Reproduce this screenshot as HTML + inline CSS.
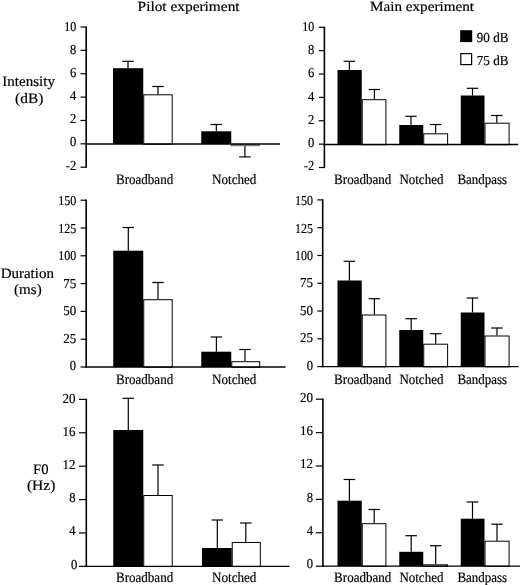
<!DOCTYPE html>
<html lang="en"><head><meta charset="utf-8"><title>Figure</title>
<style>
html,body{margin:0;padding:0;background:#fff;}
svg{display:block}
text{font-family:'Liberation Serif', 'DejaVu Serif', serif;fill:#000;stroke:#000;stroke-width:0.18px;}
</style></head>
<body>
<svg width="520" height="585" viewBox="0 0 520 585" shape-rendering="geometricPrecision" text-rendering="geometricPrecision">
<rect x="0" y="0" width="520" height="585" fill="#fff"/>
<line x1="128" y1="61.3" x2="128" y2="68.2" stroke="#000" stroke-width="1.2" stroke-linecap="butt"/>
<line x1="122.25" y1="61.3" x2="133.75" y2="61.3" stroke="#000" stroke-width="1.2" stroke-linecap="butt"/>
<line x1="158" y1="86.5" x2="158" y2="94.3" stroke="#000" stroke-width="1.2" stroke-linecap="butt"/>
<line x1="152.25" y1="86.5" x2="163.75" y2="86.5" stroke="#000" stroke-width="1.2" stroke-linecap="butt"/>
<line x1="216.3" y1="124.5" x2="216.3" y2="131.3" stroke="#000" stroke-width="1.2" stroke-linecap="butt"/>
<line x1="210.55" y1="124.5" x2="222.05" y2="124.5" stroke="#000" stroke-width="1.2" stroke-linecap="butt"/>
<line x1="244.9" y1="156.9" x2="244.9" y2="145" stroke="#000" stroke-width="1.2" stroke-linecap="butt"/>
<line x1="239.15" y1="156.9" x2="250.65" y2="156.9" stroke="#000" stroke-width="1.2" stroke-linecap="butt"/>
<rect x="113" y="68.2" width="30.25" height="75.8" fill="#000"/>
<rect x="143.75" y="94.80" width="28.45" height="49.40" fill="#fff" stroke="#000" stroke-width="1.0"/>
<rect x="201.25" y="131.3" width="30.0" height="12.699999999999989" fill="#000"/>
<rect x="230.45" y="144.0" width="29.54999999999999" height="2.2" fill="#777"/>
<line x1="86.2" y1="26.4" x2="86.2" y2="167.79999999999998" stroke="#000" stroke-width="1.6" stroke-linecap="butt"/>
<line x1="85.4" y1="144.0" x2="280" y2="144.0" stroke="#000" stroke-width="1.35" stroke-linecap="butt"/>
<line x1="80.5" y1="27.0" x2="86.2" y2="27.0" stroke="#000" stroke-width="1.2" stroke-linecap="butt"/>
<text x="76.2" y="30.85" font-size="13.7" text-anchor="end" textLength="12.0" lengthAdjust="spacingAndGlyphs">10</text>
<line x1="80.5" y1="50.36666666666666" x2="86.2" y2="50.36666666666666" stroke="#000" stroke-width="1.2" stroke-linecap="butt"/>
<text x="76.2" y="53.98" font-size="13.7" text-anchor="end" textLength="6.3" lengthAdjust="spacingAndGlyphs">8</text>
<line x1="80.5" y1="73.73333333333332" x2="86.2" y2="73.73333333333332" stroke="#000" stroke-width="1.2" stroke-linecap="butt"/>
<text x="76.2" y="77.1" font-size="13.7" text-anchor="end" textLength="6.3" lengthAdjust="spacingAndGlyphs">6</text>
<line x1="80.5" y1="97.1" x2="86.2" y2="97.1" stroke="#000" stroke-width="1.2" stroke-linecap="butt"/>
<text x="76.2" y="100.23" font-size="13.7" text-anchor="end" textLength="6.3" lengthAdjust="spacingAndGlyphs">4</text>
<line x1="80.5" y1="120.46666666666665" x2="86.2" y2="120.46666666666665" stroke="#000" stroke-width="1.2" stroke-linecap="butt"/>
<text x="76.2" y="123.35" font-size="13.7" text-anchor="end" textLength="6.3" lengthAdjust="spacingAndGlyphs">2</text>
<line x1="80.5" y1="143.83333333333331" x2="86.2" y2="143.83333333333331" stroke="#000" stroke-width="1.2" stroke-linecap="butt"/>
<text x="76.2" y="146.47" font-size="13.7" text-anchor="end" textLength="6.3" lengthAdjust="spacingAndGlyphs">0</text>
<line x1="80.5" y1="167.2" x2="86.2" y2="167.2" stroke="#000" stroke-width="1.2" stroke-linecap="butt"/>
<text x="76.2" y="169.6" font-size="13.7" text-anchor="end" textLength="10.4" lengthAdjust="spacingAndGlyphs">-2</text>
<line x1="349.4" y1="61.3" x2="349.4" y2="70" stroke="#000" stroke-width="1.2" stroke-linecap="butt"/>
<line x1="343.65" y1="61.3" x2="355.15" y2="61.3" stroke="#000" stroke-width="1.2" stroke-linecap="butt"/>
<line x1="374.4" y1="89.5" x2="374.4" y2="99.2" stroke="#000" stroke-width="1.2" stroke-linecap="butt"/>
<line x1="368.65" y1="89.5" x2="380.15" y2="89.5" stroke="#000" stroke-width="1.2" stroke-linecap="butt"/>
<line x1="411" y1="116.3" x2="411" y2="125" stroke="#000" stroke-width="1.2" stroke-linecap="butt"/>
<line x1="405.25" y1="116.3" x2="416.75" y2="116.3" stroke="#000" stroke-width="1.2" stroke-linecap="butt"/>
<line x1="435.6" y1="124.5" x2="435.6" y2="133.3" stroke="#000" stroke-width="1.2" stroke-linecap="butt"/>
<line x1="429.85" y1="124.5" x2="441.35" y2="124.5" stroke="#000" stroke-width="1.2" stroke-linecap="butt"/>
<line x1="472.5" y1="88.3" x2="472.5" y2="95.5" stroke="#000" stroke-width="1.2" stroke-linecap="butt"/>
<line x1="466.75" y1="88.3" x2="478.25" y2="88.3" stroke="#000" stroke-width="1.2" stroke-linecap="butt"/>
<line x1="496.8" y1="115.5" x2="496.8" y2="122.7" stroke="#000" stroke-width="1.2" stroke-linecap="butt"/>
<line x1="491.05" y1="115.5" x2="502.55" y2="115.5" stroke="#000" stroke-width="1.2" stroke-linecap="butt"/>
<rect x="337.5" y="70" width="24.25" height="74.5" fill="#000"/>
<rect x="362.25" y="99.70" width="23.65" height="45.00" fill="#fff" stroke="#000" stroke-width="1.0"/>
<rect x="399.25" y="125" width="24.0" height="19.5" fill="#000"/>
<rect x="423.75" y="133.80" width="23.85" height="10.90" fill="#fff" stroke="#000" stroke-width="1.0"/>
<rect x="460.75" y="95.5" width="23.75" height="49.0" fill="#000"/>
<rect x="485.00" y="123.20" width="24.10" height="21.50" fill="#fff" stroke="#000" stroke-width="1.0"/>
<line x1="324.4" y1="26.7" x2="324.4" y2="168.1" stroke="#000" stroke-width="1.6" stroke-linecap="butt"/>
<line x1="323.59999999999997" y1="144.5" x2="518.2" y2="144.5" stroke="#000" stroke-width="1.35" stroke-linecap="butt"/>
<line x1="318.79999999999995" y1="27.3" x2="324.4" y2="27.3" stroke="#000" stroke-width="1.2" stroke-linecap="butt"/>
<text x="314.2" y="31.05" font-size="13.7" text-anchor="end" textLength="12.0" lengthAdjust="spacingAndGlyphs">10</text>
<line x1="318.79999999999995" y1="50.666666666666664" x2="324.4" y2="50.666666666666664" stroke="#000" stroke-width="1.2" stroke-linecap="butt"/>
<text x="314.2" y="54.23" font-size="13.7" text-anchor="end" textLength="6.3" lengthAdjust="spacingAndGlyphs">8</text>
<line x1="318.79999999999995" y1="74.03333333333333" x2="324.4" y2="74.03333333333333" stroke="#000" stroke-width="1.2" stroke-linecap="butt"/>
<text x="314.2" y="77.4" font-size="13.7" text-anchor="end" textLength="6.3" lengthAdjust="spacingAndGlyphs">6</text>
<line x1="318.79999999999995" y1="97.39999999999999" x2="324.4" y2="97.39999999999999" stroke="#000" stroke-width="1.2" stroke-linecap="butt"/>
<text x="314.2" y="100.58" font-size="13.7" text-anchor="end" textLength="6.3" lengthAdjust="spacingAndGlyphs">4</text>
<line x1="318.79999999999995" y1="120.76666666666665" x2="324.4" y2="120.76666666666665" stroke="#000" stroke-width="1.2" stroke-linecap="butt"/>
<text x="314.2" y="123.75" font-size="13.7" text-anchor="end" textLength="6.3" lengthAdjust="spacingAndGlyphs">2</text>
<line x1="318.79999999999995" y1="144.13333333333333" x2="324.4" y2="144.13333333333333" stroke="#000" stroke-width="1.2" stroke-linecap="butt"/>
<text x="314.2" y="146.92" font-size="13.7" text-anchor="end" textLength="6.3" lengthAdjust="spacingAndGlyphs">0</text>
<line x1="318.79999999999995" y1="167.5" x2="324.4" y2="167.5" stroke="#000" stroke-width="1.2" stroke-linecap="butt"/>
<text x="314.2" y="170.1" font-size="13.7" text-anchor="end" textLength="10.4" lengthAdjust="spacingAndGlyphs">-2</text>
<line x1="128.3" y1="227.5" x2="128.3" y2="250.7" stroke="#000" stroke-width="1.2" stroke-linecap="butt"/>
<line x1="122.55000000000001" y1="227.5" x2="134.05" y2="227.5" stroke="#000" stroke-width="1.2" stroke-linecap="butt"/>
<line x1="158" y1="282.5" x2="158" y2="299.2" stroke="#000" stroke-width="1.2" stroke-linecap="butt"/>
<line x1="152.25" y1="282.5" x2="163.75" y2="282.5" stroke="#000" stroke-width="1.2" stroke-linecap="butt"/>
<line x1="216.4" y1="337" x2="216.4" y2="351.7" stroke="#000" stroke-width="1.2" stroke-linecap="butt"/>
<line x1="210.65" y1="337" x2="222.15" y2="337" stroke="#000" stroke-width="1.2" stroke-linecap="butt"/>
<line x1="245" y1="349.5" x2="245" y2="361.2" stroke="#000" stroke-width="1.2" stroke-linecap="butt"/>
<line x1="239.25" y1="349.5" x2="250.75" y2="349.5" stroke="#000" stroke-width="1.2" stroke-linecap="butt"/>
<rect x="113.25" y="250.7" width="30.0" height="116.30000000000001" fill="#000"/>
<rect x="143.75" y="299.70" width="28.45" height="67.50" fill="#fff" stroke="#000" stroke-width="1.0"/>
<rect x="201.25" y="351.7" width="30.0" height="15.300000000000011" fill="#000"/>
<rect x="231.75" y="361.70" width="27.95" height="5.50" fill="#fff" stroke="#000" stroke-width="1.0"/>
<line x1="86.2" y1="199.6" x2="86.2" y2="367.6" stroke="#000" stroke-width="1.6" stroke-linecap="butt"/>
<line x1="85.4" y1="367.0" x2="285.5" y2="367.0" stroke="#000" stroke-width="1.35" stroke-linecap="butt"/>
<line x1="80.60000000000001" y1="200.2" x2="86.2" y2="200.2" stroke="#000" stroke-width="1.2" stroke-linecap="butt"/>
<text x="76.15" y="205.4" font-size="13.7" text-anchor="end" textLength="18" lengthAdjust="spacingAndGlyphs">150</text>
<line x1="80.60000000000001" y1="228.0" x2="86.2" y2="228.0" stroke="#000" stroke-width="1.2" stroke-linecap="butt"/>
<text x="76.15" y="232.85" font-size="13.7" text-anchor="end" textLength="18" lengthAdjust="spacingAndGlyphs">125</text>
<line x1="80.60000000000001" y1="255.79999999999998" x2="86.2" y2="255.79999999999998" stroke="#000" stroke-width="1.2" stroke-linecap="butt"/>
<text x="76.15" y="260.3" font-size="13.7" text-anchor="end" textLength="18" lengthAdjust="spacingAndGlyphs">100</text>
<line x1="80.60000000000001" y1="283.6" x2="86.2" y2="283.6" stroke="#000" stroke-width="1.2" stroke-linecap="butt"/>
<text x="76.15" y="287.75" font-size="13.7" text-anchor="end" textLength="13" lengthAdjust="spacingAndGlyphs">75</text>
<line x1="80.60000000000001" y1="311.4" x2="86.2" y2="311.4" stroke="#000" stroke-width="1.2" stroke-linecap="butt"/>
<text x="76.15" y="315.2" font-size="13.7" text-anchor="end" textLength="13" lengthAdjust="spacingAndGlyphs">50</text>
<line x1="80.60000000000001" y1="339.2" x2="86.2" y2="339.2" stroke="#000" stroke-width="1.2" stroke-linecap="butt"/>
<text x="76.15" y="342.65" font-size="13.7" text-anchor="end" textLength="13" lengthAdjust="spacingAndGlyphs">25</text>
<line x1="80.60000000000001" y1="367.0" x2="86.2" y2="367.0" stroke="#000" stroke-width="1.2" stroke-linecap="butt"/>
<text x="76.15" y="370.1" font-size="13.7" text-anchor="end" textLength="6.3" lengthAdjust="spacingAndGlyphs">0</text>
<line x1="349.4" y1="261.3" x2="349.4" y2="280.5" stroke="#000" stroke-width="1.2" stroke-linecap="butt"/>
<line x1="343.65" y1="261.3" x2="355.15" y2="261.3" stroke="#000" stroke-width="1.2" stroke-linecap="butt"/>
<line x1="374.4" y1="298.7" x2="374.4" y2="314.5" stroke="#000" stroke-width="1.2" stroke-linecap="butt"/>
<line x1="368.65" y1="298.7" x2="380.15" y2="298.7" stroke="#000" stroke-width="1.2" stroke-linecap="butt"/>
<line x1="411.2" y1="318.7" x2="411.2" y2="330" stroke="#000" stroke-width="1.2" stroke-linecap="butt"/>
<line x1="405.45" y1="318.7" x2="416.95" y2="318.7" stroke="#000" stroke-width="1.2" stroke-linecap="butt"/>
<line x1="435.7" y1="333.7" x2="435.7" y2="343.7" stroke="#000" stroke-width="1.2" stroke-linecap="butt"/>
<line x1="429.95" y1="333.7" x2="441.45" y2="333.7" stroke="#000" stroke-width="1.2" stroke-linecap="butt"/>
<line x1="472.5" y1="298" x2="472.5" y2="312.5" stroke="#000" stroke-width="1.2" stroke-linecap="butt"/>
<line x1="466.75" y1="298" x2="478.25" y2="298" stroke="#000" stroke-width="1.2" stroke-linecap="butt"/>
<line x1="497" y1="328" x2="497" y2="335.5" stroke="#000" stroke-width="1.2" stroke-linecap="butt"/>
<line x1="491.25" y1="328" x2="502.75" y2="328" stroke="#000" stroke-width="1.2" stroke-linecap="butt"/>
<rect x="337.5" y="280.5" width="24.25" height="86.10000000000002" fill="#000"/>
<rect x="362.25" y="315.00" width="23.65" height="51.80" fill="#fff" stroke="#000" stroke-width="1.0"/>
<rect x="399.25" y="330" width="24.0" height="36.60000000000002" fill="#000"/>
<rect x="423.75" y="344.20" width="23.85" height="22.60" fill="#fff" stroke="#000" stroke-width="1.0"/>
<rect x="460.75" y="312.5" width="23.75" height="54.10000000000002" fill="#000"/>
<rect x="485.00" y="336.00" width="24.10" height="30.80" fill="#fff" stroke="#000" stroke-width="1.0"/>
<line x1="322.7" y1="199.3" x2="322.7" y2="367.20000000000005" stroke="#000" stroke-width="1.6" stroke-linecap="butt"/>
<line x1="321.9" y1="366.6" x2="518.6" y2="366.6" stroke="#000" stroke-width="1.35" stroke-linecap="butt"/>
<line x1="317.4" y1="199.9" x2="322.7" y2="199.9" stroke="#000" stroke-width="1.2" stroke-linecap="butt"/>
<text x="313.1" y="205.1" font-size="13.7" text-anchor="end" textLength="18" lengthAdjust="spacingAndGlyphs">150</text>
<line x1="317.4" y1="227.68333333333334" x2="322.7" y2="227.68333333333334" stroke="#000" stroke-width="1.2" stroke-linecap="butt"/>
<text x="313.1" y="232.53" font-size="13.7" text-anchor="end" textLength="18" lengthAdjust="spacingAndGlyphs">125</text>
<line x1="317.4" y1="255.46666666666667" x2="322.7" y2="255.46666666666667" stroke="#000" stroke-width="1.2" stroke-linecap="butt"/>
<text x="313.1" y="259.97" font-size="13.7" text-anchor="end" textLength="18" lengthAdjust="spacingAndGlyphs">100</text>
<line x1="317.4" y1="283.25" x2="322.7" y2="283.25" stroke="#000" stroke-width="1.2" stroke-linecap="butt"/>
<text x="313.1" y="287.4" font-size="13.7" text-anchor="end" textLength="13" lengthAdjust="spacingAndGlyphs">75</text>
<line x1="317.4" y1="311.03333333333336" x2="322.7" y2="311.03333333333336" stroke="#000" stroke-width="1.2" stroke-linecap="butt"/>
<text x="313.1" y="314.83" font-size="13.7" text-anchor="end" textLength="13" lengthAdjust="spacingAndGlyphs">50</text>
<line x1="317.4" y1="338.8166666666667" x2="322.7" y2="338.8166666666667" stroke="#000" stroke-width="1.2" stroke-linecap="butt"/>
<text x="313.1" y="342.27" font-size="13.7" text-anchor="end" textLength="13" lengthAdjust="spacingAndGlyphs">25</text>
<line x1="317.4" y1="366.6" x2="322.7" y2="366.6" stroke="#000" stroke-width="1.2" stroke-linecap="butt"/>
<text x="313.1" y="369.7" font-size="13.7" text-anchor="end" textLength="6.3" lengthAdjust="spacingAndGlyphs">0</text>
<line x1="128.3" y1="398.3" x2="128.3" y2="430" stroke="#000" stroke-width="1.2" stroke-linecap="butt"/>
<line x1="122.55000000000001" y1="398.3" x2="134.05" y2="398.3" stroke="#000" stroke-width="1.2" stroke-linecap="butt"/>
<line x1="158" y1="465" x2="158" y2="495" stroke="#000" stroke-width="1.2" stroke-linecap="butt"/>
<line x1="152.25" y1="465" x2="163.75" y2="465" stroke="#000" stroke-width="1.2" stroke-linecap="butt"/>
<line x1="217.3" y1="520" x2="217.3" y2="548" stroke="#000" stroke-width="1.2" stroke-linecap="butt"/>
<line x1="211.55" y1="520" x2="223.05" y2="520" stroke="#000" stroke-width="1.2" stroke-linecap="butt"/>
<line x1="245.8" y1="523" x2="245.8" y2="542" stroke="#000" stroke-width="1.2" stroke-linecap="butt"/>
<line x1="240.05" y1="523" x2="251.55" y2="523" stroke="#000" stroke-width="1.2" stroke-linecap="butt"/>
<rect x="113.25" y="430" width="30.0" height="136.35000000000002" fill="#000"/>
<rect x="143.75" y="495.50" width="28.45" height="71.05" fill="#fff" stroke="#000" stroke-width="1.0"/>
<rect x="202" y="548" width="29.75" height="18.350000000000023" fill="#000"/>
<rect x="232.25" y="542.50" width="28.05" height="24.05" fill="#fff" stroke="#000" stroke-width="1.0"/>
<line x1="86.3" y1="398.79999999999995" x2="86.3" y2="566.95" stroke="#000" stroke-width="1.6" stroke-linecap="butt"/>
<line x1="85.5" y1="566.35" x2="289.5" y2="566.35" stroke="#000" stroke-width="1.35" stroke-linecap="butt"/>
<line x1="78.89999999999999" y1="399.4" x2="86.3" y2="399.4" stroke="#000" stroke-width="1.2" stroke-linecap="butt"/>
<text x="75.5" y="402.6" font-size="13.7" text-anchor="end" textLength="13" lengthAdjust="spacingAndGlyphs">20</text>
<line x1="78.89999999999999" y1="432.78999999999996" x2="86.3" y2="432.78999999999996" stroke="#000" stroke-width="1.2" stroke-linecap="butt"/>
<text x="75.5" y="435.8" font-size="13.7" text-anchor="end" textLength="13" lengthAdjust="spacingAndGlyphs">16</text>
<line x1="78.89999999999999" y1="466.18" x2="86.3" y2="466.18" stroke="#000" stroke-width="1.2" stroke-linecap="butt"/>
<text x="75.5" y="469.0" font-size="13.7" text-anchor="end" textLength="13" lengthAdjust="spacingAndGlyphs">12</text>
<line x1="78.89999999999999" y1="499.57" x2="86.3" y2="499.57" stroke="#000" stroke-width="1.2" stroke-linecap="butt"/>
<text x="75.5" y="502.2" font-size="13.7" text-anchor="end" textLength="6.3" lengthAdjust="spacingAndGlyphs">8</text>
<line x1="78.89999999999999" y1="532.96" x2="86.3" y2="532.96" stroke="#000" stroke-width="1.2" stroke-linecap="butt"/>
<text x="75.5" y="535.4" font-size="13.7" text-anchor="end" textLength="6.3" lengthAdjust="spacingAndGlyphs">4</text>
<line x1="78.89999999999999" y1="566.35" x2="86.3" y2="566.35" stroke="#000" stroke-width="1.2" stroke-linecap="butt"/>
<text x="77.4" y="568.6" font-size="13.7" text-anchor="end" textLength="6.3" lengthAdjust="spacingAndGlyphs">0</text>
<line x1="349.4" y1="479.5" x2="349.4" y2="500.7" stroke="#000" stroke-width="1.2" stroke-linecap="butt"/>
<line x1="343.65" y1="479.5" x2="355.15" y2="479.5" stroke="#000" stroke-width="1.2" stroke-linecap="butt"/>
<line x1="374.2" y1="509.5" x2="374.2" y2="523.2" stroke="#000" stroke-width="1.2" stroke-linecap="butt"/>
<line x1="368.45" y1="509.5" x2="379.95" y2="509.5" stroke="#000" stroke-width="1.2" stroke-linecap="butt"/>
<line x1="411.2" y1="535.7" x2="411.2" y2="551.8" stroke="#000" stroke-width="1.2" stroke-linecap="butt"/>
<line x1="405.45" y1="535.7" x2="416.95" y2="535.7" stroke="#000" stroke-width="1.2" stroke-linecap="butt"/>
<line x1="435.7" y1="545.7" x2="435.7" y2="564.3" stroke="#000" stroke-width="1.2" stroke-linecap="butt"/>
<line x1="429.95" y1="545.7" x2="441.45" y2="545.7" stroke="#000" stroke-width="1.2" stroke-linecap="butt"/>
<line x1="472.5" y1="502" x2="472.5" y2="518.7" stroke="#000" stroke-width="1.2" stroke-linecap="butt"/>
<line x1="466.75" y1="502" x2="478.25" y2="502" stroke="#000" stroke-width="1.2" stroke-linecap="butt"/>
<line x1="497" y1="524.2" x2="497" y2="540.7" stroke="#000" stroke-width="1.2" stroke-linecap="butt"/>
<line x1="491.25" y1="524.2" x2="502.75" y2="524.2" stroke="#000" stroke-width="1.2" stroke-linecap="butt"/>
<rect x="337.5" y="500.7" width="24.25" height="65.44999999999999" fill="#000"/>
<rect x="362.25" y="523.70" width="23.65" height="42.65" fill="#fff" stroke="#000" stroke-width="1.0"/>
<rect x="399.25" y="551.8" width="24.0" height="14.350000000000023" fill="#000"/>
<rect x="423.75" y="564.80" width="23.85" height="1.55" fill="#fff" stroke="#000" stroke-width="1.0"/>
<rect x="460.75" y="518.7" width="23.75" height="47.44999999999993" fill="#000"/>
<rect x="485.00" y="541.20" width="24.10" height="25.15" fill="#fff" stroke="#000" stroke-width="1.0"/>
<line x1="322.9" y1="398.59999999999997" x2="322.9" y2="566.75" stroke="#000" stroke-width="1.6" stroke-linecap="butt"/>
<line x1="322.09999999999997" y1="566.15" x2="520" y2="566.15" stroke="#000" stroke-width="1.35" stroke-linecap="butt"/>
<line x1="315.79999999999995" y1="399.2" x2="322.9" y2="399.2" stroke="#000" stroke-width="1.2" stroke-linecap="butt"/>
<text x="313.1" y="401.8" font-size="13.7" text-anchor="end" textLength="13" lengthAdjust="spacingAndGlyphs">20</text>
<line x1="315.79999999999995" y1="432.59" x2="322.9" y2="432.59" stroke="#000" stroke-width="1.2" stroke-linecap="butt"/>
<text x="313.1" y="435.04" font-size="13.7" text-anchor="end" textLength="13" lengthAdjust="spacingAndGlyphs">16</text>
<line x1="315.79999999999995" y1="465.98" x2="322.9" y2="465.98" stroke="#000" stroke-width="1.2" stroke-linecap="butt"/>
<text x="313.1" y="468.28" font-size="13.7" text-anchor="end" textLength="13" lengthAdjust="spacingAndGlyphs">12</text>
<line x1="315.79999999999995" y1="499.37" x2="322.9" y2="499.37" stroke="#000" stroke-width="1.2" stroke-linecap="butt"/>
<text x="313.1" y="501.52" font-size="13.7" text-anchor="end" textLength="6.3" lengthAdjust="spacingAndGlyphs">8</text>
<line x1="315.79999999999995" y1="532.76" x2="322.9" y2="532.76" stroke="#000" stroke-width="1.2" stroke-linecap="butt"/>
<text x="313.1" y="534.76" font-size="13.7" text-anchor="end" textLength="6.3" lengthAdjust="spacingAndGlyphs">4</text>
<line x1="315.79999999999995" y1="566.15" x2="322.9" y2="566.15" stroke="#000" stroke-width="1.2" stroke-linecap="butt"/>
<text x="313.1" y="568.0" font-size="13.7" text-anchor="end" textLength="6.3" lengthAdjust="spacingAndGlyphs">0</text>
<text x="116.0" y="183.9" font-size="14.3" text-anchor="start" textLength="57.2" lengthAdjust="spacingAndGlyphs">Broadband</text>
<text x="212" y="183.9" font-size="14.3" text-anchor="start" textLength="44.4" lengthAdjust="spacingAndGlyphs">Notched</text>
<text x="334.1" y="183.9" font-size="14.3" text-anchor="start" textLength="57.2" lengthAdjust="spacingAndGlyphs">Broadband</text>
<text x="399.4" y="183.9" font-size="14.3" text-anchor="start" textLength="44" lengthAdjust="spacingAndGlyphs">Notched</text>
<text x="457.4" y="183.9" font-size="14.3" text-anchor="start" textLength="49.7" lengthAdjust="spacingAndGlyphs">Bandpass</text>
<text x="116.0" y="383.9" font-size="14.3" text-anchor="start" textLength="57.2" lengthAdjust="spacingAndGlyphs">Broadband</text>
<text x="212" y="383.9" font-size="14.3" text-anchor="start" textLength="44.4" lengthAdjust="spacingAndGlyphs">Notched</text>
<text x="334.1" y="383.9" font-size="14.3" text-anchor="start" textLength="57.2" lengthAdjust="spacingAndGlyphs">Broadband</text>
<text x="399.4" y="383.9" font-size="14.3" text-anchor="start" textLength="44" lengthAdjust="spacingAndGlyphs">Notched</text>
<text x="457.4" y="383.9" font-size="14.3" text-anchor="start" textLength="49.7" lengthAdjust="spacingAndGlyphs">Bandpass</text>
<text x="116.0" y="581.6" font-size="14.3" text-anchor="start" textLength="57.2" lengthAdjust="spacingAndGlyphs">Broadband</text>
<text x="212" y="581.6" font-size="14.3" text-anchor="start" textLength="44.4" lengthAdjust="spacingAndGlyphs">Notched</text>
<text x="334.1" y="581.6" font-size="14.3" text-anchor="start" textLength="57.2" lengthAdjust="spacingAndGlyphs">Broadband</text>
<text x="399.4" y="581.6" font-size="14.3" text-anchor="start" textLength="44" lengthAdjust="spacingAndGlyphs">Notched</text>
<text x="457.4" y="581.6" font-size="14.3" text-anchor="start" textLength="49.7" lengthAdjust="spacingAndGlyphs">Bandpass</text>
<text x="137.6" y="11.0" font-size="14" text-anchor="start" textLength="102" lengthAdjust="spacingAndGlyphs">Pilot experiment</text>
<text x="370" y="11.0" font-size="14" text-anchor="start" textLength="104" lengthAdjust="spacingAndGlyphs">Main experiment</text>
<text x="2.3" y="85.6" font-size="14.5" text-anchor="start" textLength="52.6" lengthAdjust="spacingAndGlyphs">Intensity</text>
<text x="15.1" y="102.5" font-size="14.5" text-anchor="start" textLength="28.2" lengthAdjust="spacingAndGlyphs">(dB)</text>
<text x="0.7" y="277.8" font-size="14.5" text-anchor="start" textLength="53.2" lengthAdjust="spacingAndGlyphs">Duration</text>
<text x="14.1" y="294.1" font-size="14.5" text-anchor="start" textLength="27.6" lengthAdjust="spacingAndGlyphs">(ms)</text>
<text x="33" y="473.6" font-size="14.5" text-anchor="start" textLength="15.5" lengthAdjust="spacingAndGlyphs">F0</text>
<text x="26.9" y="490.4" font-size="14.5" text-anchor="start" textLength="28.6" lengthAdjust="spacingAndGlyphs">(Hz)</text>
<rect x="460.2" y="30.2" width="12.0" height="11.9" fill="#000"/>
<rect x="460.80" y="53.60" width="10.80" height="11.00" fill="#fff" stroke="#000" stroke-width="1.2"/>
<text x="476.8" y="41.7" font-size="13.8" text-anchor="start" textLength="31.6" lengthAdjust="spacingAndGlyphs">90 dB</text>
<text x="476.8" y="64.5" font-size="13.8" text-anchor="start" textLength="31.6" lengthAdjust="spacingAndGlyphs">75 dB</text>
</svg>
</body></html>
